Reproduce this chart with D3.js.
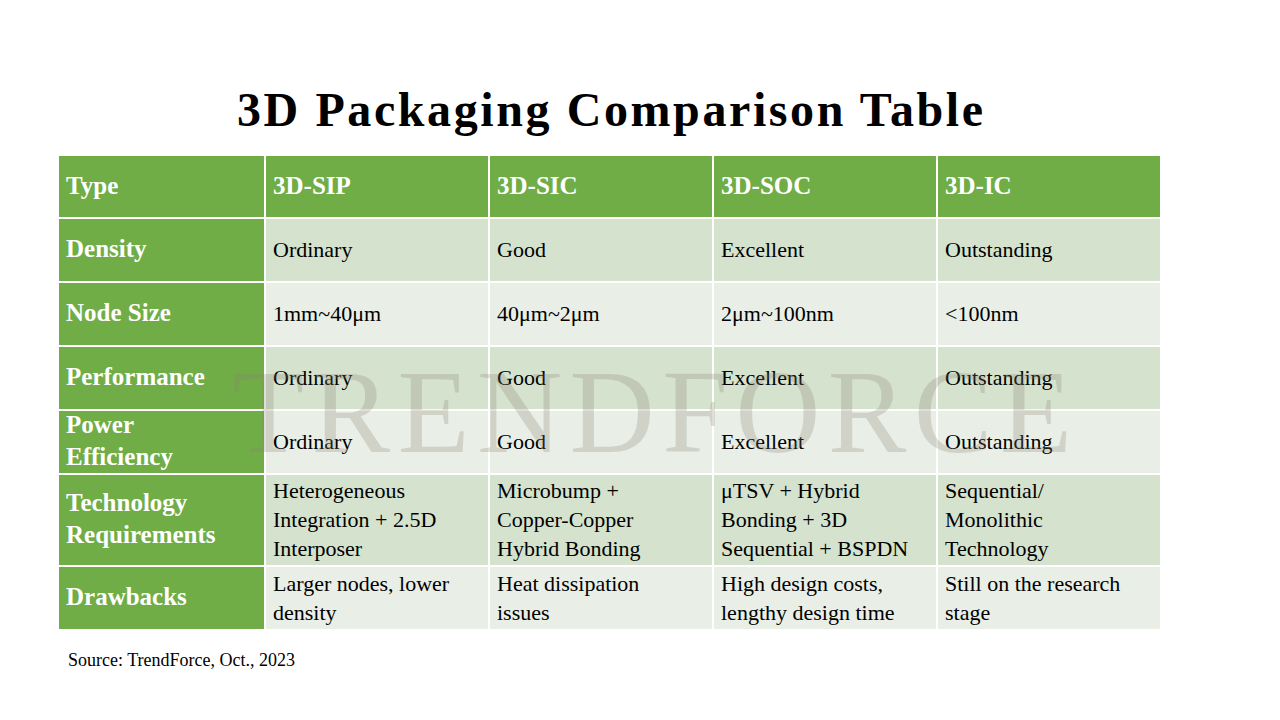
<!DOCTYPE html>
<html><head><meta charset="utf-8">
<script src="https://cdn.jsdelivr.net/npm/d3@7/dist/d3.min.js"></script>
<style>body{margin:0;background:#fff}</style></head>
<body><svg id="c" width="1280" height="720"></svg>
<script>
const title = "3D Packaging Comparison Table";
const columns = ["Type","3D-SIP","3D-SIC","3D-SOC","3D-IC"];
const rowLabels = [["Density"],["Node Size"],["Performance"],["Power","Efficiency"],["Technology","Requirements"],["Drawbacks"]];
const cells = [
 [["Ordinary"],["Good"],["Excellent"],["Outstanding"]],
 [["1mm~40μm"],["40μm~2μm"],["2μm~100nm"],["<100nm"]],
 [["Ordinary"],["Good"],["Excellent"],["Outstanding"]],
 [["Ordinary"],["Good"],["Excellent"],["Outstanding"]],
 [["Heterogeneous","Integration + 2.5D","Interposer"],["Microbump +","Copper-Copper","Hybrid Bonding"],["μTSV + Hybrid","Bonding + 3D","Sequential + BSPDN"],["Sequential/","Monolithic","Technology"]],
 [["Larger nodes, lower","density"],["Heat dissipation","issues"],["High design costs,","lengthy design time"],["Still on the research","stage"]]
];
const source = "Source: TrendForce, Oct., 2023";

const svg = d3.select("#c");
const font = "'Liberation Serif','Times New Roman',serif";
const colEdges = [58,265,489,713,937,1161];
const rowEdges = [155,218,282,346,410,474,566,630];
const green="#70AD47", dark="#D5E3CE", light="#E9EFE7";

// watermark (behind text)
const wm = svg.append("g");

svg.append("text").attr("x",237).attr("y",126)
 .attr("font-family",font).attr("font-weight","bold").attr("font-size",48)
 .attr("textLength",746).attr("lengthAdjust","spacing").text(title);

function cell(c,r,fill,lines,opts){
  const x0=colEdges[c],x1=colEdges[c+1],y0=rowEdges[r],y1=rowEdges[r+1];
  svg.append("rect").attr("x",x0).attr("y",y0).attr("width",x1-x0).attr("height",y1-y0)
    .attr("fill",fill).attr("stroke","#fff").attr("stroke-width",2);
  const lh=opts.lh, cy=(y0+y1)/2, n=lines.length;
  lines.forEach((t,i)=>{
    svg.append("text").attr("class","txt").attr("x",x0+8).attr("y",cy+(i-(n-1)/2)*lh+7)
     .attr("font-family",font).attr("font-size",opts.size).attr("font-weight",opts.bold?"bold":"normal")
     .attr("fill",opts.color).text(t);
  });
}
columns.forEach((h,c)=>cell(c,0,green,[h],{lh:30,size:25,bold:true,color:"#fff"}));
rowLabels.forEach((lab,r)=>{
  cell(0,r+1,green,lab,{lh:32,size:25,bold:true,color:"#fff"});
  cells[r].forEach((ls,c)=>cell(c+1,r+1,r%2===0?dark:light,ls,{lh:29,size:22,bold:false,color:"#000"}));
});
svg.selectAll("text.txt").raise();
svg.append("text").attr("x",232).attr("y",452).attr("font-family",font).attr("font-size",118)
 .attr("fill","#8a8070").attr("opacity",0.25).attr("textLength",840).text("TRENDFORCE");
svg.append("text").attr("x",68).attr("y",666).attr("font-family",font).attr("font-size",18).text(source);
</script></body></html>
